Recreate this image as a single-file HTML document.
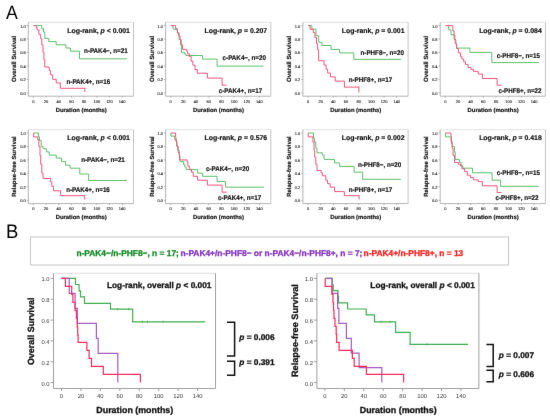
<!DOCTYPE html>
<html><head><meta charset="utf-8"><title>Figure</title>
<style>
html,body{margin:0;padding:0;background:#fff;}
svg{display:block;font-family:"Liberation Sans", sans-serif;text-rendering:geometricPrecision;}
#wrap{width:550px;height:419px;overflow:hidden;}
</style></head>
<body>
<div id="wrap"><svg width="550" height="419" viewBox="0 0 550 419">
<defs><filter id="soft" x="0" y="0" width="550" height="419" filterUnits="userSpaceOnUse" color-interpolation-filters="sRGB"><feConvolveMatrix order="3" kernelMatrix="0.00276 0.04704 0.00276 0.04704 0.80077 0.04704 0.00276 0.04704 0.00276" edgeMode="duplicate" preserveAlpha="true"/></filter></defs>
<g filter="url(#soft)">
<rect x="0" y="0" width="550" height="419" fill="#fff"/>
<text x="5.90" y="18.70" font-size="19.332" font-weight="normal" text-anchor="start" fill="#000" textLength="11.79" lengthAdjust="spacingAndGlyphs" >A</text>
<g transform="translate(0.00,0.00)">
<line x1="28.3" y1="22.3" x2="133.5" y2="22.3" stroke="#e2e2e2" stroke-width="1"/>
<line x1="133.5" y1="22.3" x2="133.5" y2="96.2" stroke="#c4c4c4" stroke-width="1"/>
<line x1="28.3" y1="22.3" x2="28.3" y2="96.2" stroke="#b4b4b4" stroke-width="1"/>
<line x1="28.3" y1="96.2" x2="133.5" y2="96.2" stroke="#b4b4b4" stroke-width="1"/>
<line x1="26.7" y1="25.60" x2="28.3" y2="25.60" stroke="#999" stroke-width="0.7"/>
<text x="25.70" y="27.50" font-size="4.0" font-weight="normal" text-anchor="end" fill="#222" stroke="#222" stroke-width="0.12" >1.0</text>
<line x1="26.7" y1="39.06" x2="28.3" y2="39.06" stroke="#999" stroke-width="0.7"/>
<text x="25.70" y="40.96" font-size="4.0" font-weight="normal" text-anchor="end" fill="#222" stroke="#222" stroke-width="0.12" >0.8</text>
<line x1="26.7" y1="52.52" x2="28.3" y2="52.52" stroke="#999" stroke-width="0.7"/>
<text x="25.70" y="54.42" font-size="4.0" font-weight="normal" text-anchor="end" fill="#222" stroke="#222" stroke-width="0.12" >0.6</text>
<line x1="26.7" y1="65.98" x2="28.3" y2="65.98" stroke="#999" stroke-width="0.7"/>
<text x="25.70" y="67.88" font-size="4.0" font-weight="normal" text-anchor="end" fill="#222" stroke="#222" stroke-width="0.12" >0.4</text>
<line x1="26.7" y1="79.44" x2="28.3" y2="79.44" stroke="#999" stroke-width="0.7"/>
<text x="25.70" y="81.34" font-size="4.0" font-weight="normal" text-anchor="end" fill="#222" stroke="#222" stroke-width="0.12" >0.2</text>
<line x1="26.7" y1="92.90" x2="28.3" y2="92.90" stroke="#999" stroke-width="0.7"/>
<text x="25.70" y="94.80" font-size="4.0" font-weight="normal" text-anchor="end" fill="#222" stroke="#222" stroke-width="0.12" >0.0</text>
<line x1="33.40" y1="96.2" x2="33.40" y2="97.60000000000001" stroke="#999" stroke-width="0.7"/>
<text x="33.40" y="102.50" font-size="4.0" font-weight="normal" text-anchor="middle" fill="#222" stroke="#222" stroke-width="0.12" >0</text>
<line x1="46.08" y1="96.2" x2="46.08" y2="97.60000000000001" stroke="#999" stroke-width="0.7"/>
<text x="46.08" y="102.50" font-size="4.0" font-weight="normal" text-anchor="middle" fill="#222" stroke="#222" stroke-width="0.12" >20</text>
<line x1="58.76" y1="96.2" x2="58.76" y2="97.60000000000001" stroke="#999" stroke-width="0.7"/>
<text x="58.76" y="102.50" font-size="4.0" font-weight="normal" text-anchor="middle" fill="#222" stroke="#222" stroke-width="0.12" >40</text>
<line x1="71.44" y1="96.2" x2="71.44" y2="97.60000000000001" stroke="#999" stroke-width="0.7"/>
<text x="71.44" y="102.50" font-size="4.0" font-weight="normal" text-anchor="middle" fill="#222" stroke="#222" stroke-width="0.12" >60</text>
<line x1="84.12" y1="96.2" x2="84.12" y2="97.60000000000001" stroke="#999" stroke-width="0.7"/>
<text x="84.12" y="102.50" font-size="4.0" font-weight="normal" text-anchor="middle" fill="#222" stroke="#222" stroke-width="0.12" >80</text>
<line x1="96.80" y1="96.2" x2="96.80" y2="97.60000000000001" stroke="#999" stroke-width="0.7"/>
<text x="96.80" y="102.50" font-size="4.0" font-weight="normal" text-anchor="middle" fill="#222" stroke="#222" stroke-width="0.12" >100</text>
<line x1="109.48" y1="96.2" x2="109.48" y2="97.60000000000001" stroke="#999" stroke-width="0.7"/>
<text x="109.48" y="102.50" font-size="4.0" font-weight="normal" text-anchor="middle" fill="#222" stroke="#222" stroke-width="0.12" >120</text>
<line x1="122.16" y1="96.2" x2="122.16" y2="97.60000000000001" stroke="#999" stroke-width="0.7"/>
<text x="122.16" y="102.50" font-size="4.0" font-weight="normal" text-anchor="middle" fill="#222" stroke="#222" stroke-width="0.12" >140</text>
<text transform="translate(16.2,58.85) rotate(-90)" font-size="6.1" font-weight="bold" text-anchor="middle" fill="#111" stroke="#111" stroke-width="0.15">Overall Survival</text>
<text x="81.20" y="111.80" font-size="5.9" font-weight="bold" text-anchor="middle" fill="#111" stroke="#111" stroke-width="0.18" >Duration (months)</text>
<text x="129.90" y="32.90" font-size="6.9" font-weight="bold" text-anchor="end" fill="#111" stroke="#111" stroke-width="0.18" >Log-rank, <tspan font-style="italic">p</tspan> &lt; 0.001</text>
</g>
<path d="M33.6,25.6 H41.8 V28.8 H43.5 V32 H44.8 V38.4 H48.8 V41.6 H56.2 V44.8 H65.9 V48 H70.4 V51.2 H79.5 V58.8 H126.8" fill="none" stroke="#5cbf6c" stroke-width="1.0" stroke-linejoin="miter" stroke-linecap="butt"/>
<path d="M33.6,25.6 H36.3 V27.5 H37.2 V30 H38.9 V34.4 H40.7 V38.8 H41.8 V44.9 H43 V52 H43.9 V59.9 H44.8 V67 H49.2 V70.5 H50.4 V74.9 H52.7 V79.3 H56.2 V82.9 H60.3 V88.3 H84.8 M84.8,87.5 V92" fill="none" stroke="#f5547e" stroke-width="1.0" stroke-linejoin="miter" stroke-linecap="butt"/>
<text x="84.00" y="53.20" font-size="6.875" font-weight="bold" text-anchor="start" fill="#111" stroke="#111" stroke-width="0.18" textLength="43.66" lengthAdjust="spacingAndGlyphs" >n-PAK4−, n=21</text>
<text x="66.50" y="83.60" font-size="6.875" font-weight="bold" text-anchor="start" fill="#111" stroke="#111" stroke-width="0.18" textLength="43.66" lengthAdjust="spacingAndGlyphs" >n-PAK4+, n=16</text>
<g transform="translate(137.30,0.00)">
<line x1="28.3" y1="22.3" x2="133.5" y2="22.3" stroke="#e2e2e2" stroke-width="1"/>
<line x1="133.5" y1="22.3" x2="133.5" y2="96.2" stroke="#c4c4c4" stroke-width="1"/>
<line x1="28.3" y1="22.3" x2="28.3" y2="96.2" stroke="#b4b4b4" stroke-width="1"/>
<line x1="28.3" y1="96.2" x2="133.5" y2="96.2" stroke="#b4b4b4" stroke-width="1"/>
<line x1="26.7" y1="25.60" x2="28.3" y2="25.60" stroke="#999" stroke-width="0.7"/>
<text x="25.70" y="27.50" font-size="4.0" font-weight="normal" text-anchor="end" fill="#222" stroke="#222" stroke-width="0.12" >1.0</text>
<line x1="26.7" y1="39.06" x2="28.3" y2="39.06" stroke="#999" stroke-width="0.7"/>
<text x="25.70" y="40.96" font-size="4.0" font-weight="normal" text-anchor="end" fill="#222" stroke="#222" stroke-width="0.12" >0.8</text>
<line x1="26.7" y1="52.52" x2="28.3" y2="52.52" stroke="#999" stroke-width="0.7"/>
<text x="25.70" y="54.42" font-size="4.0" font-weight="normal" text-anchor="end" fill="#222" stroke="#222" stroke-width="0.12" >0.6</text>
<line x1="26.7" y1="65.98" x2="28.3" y2="65.98" stroke="#999" stroke-width="0.7"/>
<text x="25.70" y="67.88" font-size="4.0" font-weight="normal" text-anchor="end" fill="#222" stroke="#222" stroke-width="0.12" >0.4</text>
<line x1="26.7" y1="79.44" x2="28.3" y2="79.44" stroke="#999" stroke-width="0.7"/>
<text x="25.70" y="81.34" font-size="4.0" font-weight="normal" text-anchor="end" fill="#222" stroke="#222" stroke-width="0.12" >0.2</text>
<line x1="26.7" y1="92.90" x2="28.3" y2="92.90" stroke="#999" stroke-width="0.7"/>
<text x="25.70" y="94.80" font-size="4.0" font-weight="normal" text-anchor="end" fill="#222" stroke="#222" stroke-width="0.12" >0.0</text>
<line x1="33.40" y1="96.2" x2="33.40" y2="97.60000000000001" stroke="#999" stroke-width="0.7"/>
<text x="33.40" y="102.50" font-size="4.0" font-weight="normal" text-anchor="middle" fill="#222" stroke="#222" stroke-width="0.12" >0</text>
<line x1="46.08" y1="96.2" x2="46.08" y2="97.60000000000001" stroke="#999" stroke-width="0.7"/>
<text x="46.08" y="102.50" font-size="4.0" font-weight="normal" text-anchor="middle" fill="#222" stroke="#222" stroke-width="0.12" >20</text>
<line x1="58.76" y1="96.2" x2="58.76" y2="97.60000000000001" stroke="#999" stroke-width="0.7"/>
<text x="58.76" y="102.50" font-size="4.0" font-weight="normal" text-anchor="middle" fill="#222" stroke="#222" stroke-width="0.12" >40</text>
<line x1="71.44" y1="96.2" x2="71.44" y2="97.60000000000001" stroke="#999" stroke-width="0.7"/>
<text x="71.44" y="102.50" font-size="4.0" font-weight="normal" text-anchor="middle" fill="#222" stroke="#222" stroke-width="0.12" >60</text>
<line x1="84.12" y1="96.2" x2="84.12" y2="97.60000000000001" stroke="#999" stroke-width="0.7"/>
<text x="84.12" y="102.50" font-size="4.0" font-weight="normal" text-anchor="middle" fill="#222" stroke="#222" stroke-width="0.12" >80</text>
<line x1="96.80" y1="96.2" x2="96.80" y2="97.60000000000001" stroke="#999" stroke-width="0.7"/>
<text x="96.80" y="102.50" font-size="4.0" font-weight="normal" text-anchor="middle" fill="#222" stroke="#222" stroke-width="0.12" >100</text>
<line x1="109.48" y1="96.2" x2="109.48" y2="97.60000000000001" stroke="#999" stroke-width="0.7"/>
<text x="109.48" y="102.50" font-size="4.0" font-weight="normal" text-anchor="middle" fill="#222" stroke="#222" stroke-width="0.12" >120</text>
<line x1="122.16" y1="96.2" x2="122.16" y2="97.60000000000001" stroke="#999" stroke-width="0.7"/>
<text x="122.16" y="102.50" font-size="4.0" font-weight="normal" text-anchor="middle" fill="#222" stroke="#222" stroke-width="0.12" >140</text>
<text transform="translate(16.2,58.85) rotate(-90)" font-size="6.1" font-weight="bold" text-anchor="middle" fill="#111" stroke="#111" stroke-width="0.15">Overall Survival</text>
<text x="81.20" y="111.80" font-size="5.9" font-weight="bold" text-anchor="middle" fill="#111" stroke="#111" stroke-width="0.18" >Duration (months)</text>
<text x="129.90" y="32.90" font-size="6.9" font-weight="bold" text-anchor="end" fill="#111" stroke="#111" stroke-width="0.18" >Log-rank, <tspan font-style="italic">p</tspan> = 0.207</text>
</g>
<path d="M170.9,25.6 H172.9 V28.2 H173.8 V29.4 H177.4 V33.5 H179.1 V39.6 H180.5 V44.9 H181.4 V52.4 H184.4 V53.8 H185.8 V55.5 H202.6 V59.1 H217.1 V66.1 H263.5" fill="none" stroke="#5cbf6c" stroke-width="1.0" stroke-linejoin="miter" stroke-linecap="butt"/>
<path d="M170.9,25.6 H174.2 V25.6 H175.6 V28.7 H177.4 V32.6 H178.8 V36.1 H180 V39.6 H181.2 V44.9 H182.6 V49.4 H186.7 V51.1 H187.6 V53.8 H189.4 V56.4 H191.1 V61.2 H192.9 V65.2 H195 V69.6 H197.3 V73.2 H207.4 V78.1 H222.1 V85.2 H226.5" fill="none" stroke="#f5547e" stroke-width="1.0" stroke-linejoin="miter" stroke-linecap="butt"/>
<text x="222.60" y="59.90" font-size="6.875" font-weight="bold" text-anchor="start" fill="#111" stroke="#111" stroke-width="0.18" textLength="43.31" lengthAdjust="spacingAndGlyphs" >c-PAK4−, n=20</text>
<text x="218.80" y="92.60" font-size="6.875" font-weight="bold" text-anchor="start" fill="#111" stroke="#111" stroke-width="0.18" textLength="43.31" lengthAdjust="spacingAndGlyphs" >c-PAK4+, n=17</text>
<g transform="translate(274.60,0.00)">
<line x1="28.3" y1="22.3" x2="133.5" y2="22.3" stroke="#e2e2e2" stroke-width="1"/>
<line x1="133.5" y1="22.3" x2="133.5" y2="96.2" stroke="#c4c4c4" stroke-width="1"/>
<line x1="28.3" y1="22.3" x2="28.3" y2="96.2" stroke="#b4b4b4" stroke-width="1"/>
<line x1="28.3" y1="96.2" x2="133.5" y2="96.2" stroke="#b4b4b4" stroke-width="1"/>
<line x1="26.7" y1="25.60" x2="28.3" y2="25.60" stroke="#999" stroke-width="0.7"/>
<text x="25.70" y="27.50" font-size="4.0" font-weight="normal" text-anchor="end" fill="#222" stroke="#222" stroke-width="0.12" >1.0</text>
<line x1="26.7" y1="39.06" x2="28.3" y2="39.06" stroke="#999" stroke-width="0.7"/>
<text x="25.70" y="40.96" font-size="4.0" font-weight="normal" text-anchor="end" fill="#222" stroke="#222" stroke-width="0.12" >0.8</text>
<line x1="26.7" y1="52.52" x2="28.3" y2="52.52" stroke="#999" stroke-width="0.7"/>
<text x="25.70" y="54.42" font-size="4.0" font-weight="normal" text-anchor="end" fill="#222" stroke="#222" stroke-width="0.12" >0.6</text>
<line x1="26.7" y1="65.98" x2="28.3" y2="65.98" stroke="#999" stroke-width="0.7"/>
<text x="25.70" y="67.88" font-size="4.0" font-weight="normal" text-anchor="end" fill="#222" stroke="#222" stroke-width="0.12" >0.4</text>
<line x1="26.7" y1="79.44" x2="28.3" y2="79.44" stroke="#999" stroke-width="0.7"/>
<text x="25.70" y="81.34" font-size="4.0" font-weight="normal" text-anchor="end" fill="#222" stroke="#222" stroke-width="0.12" >0.2</text>
<line x1="26.7" y1="92.90" x2="28.3" y2="92.90" stroke="#999" stroke-width="0.7"/>
<text x="25.70" y="94.80" font-size="4.0" font-weight="normal" text-anchor="end" fill="#222" stroke="#222" stroke-width="0.12" >0.0</text>
<line x1="33.40" y1="96.2" x2="33.40" y2="97.60000000000001" stroke="#999" stroke-width="0.7"/>
<text x="33.40" y="102.50" font-size="4.0" font-weight="normal" text-anchor="middle" fill="#222" stroke="#222" stroke-width="0.12" >0</text>
<line x1="46.08" y1="96.2" x2="46.08" y2="97.60000000000001" stroke="#999" stroke-width="0.7"/>
<text x="46.08" y="102.50" font-size="4.0" font-weight="normal" text-anchor="middle" fill="#222" stroke="#222" stroke-width="0.12" >20</text>
<line x1="58.76" y1="96.2" x2="58.76" y2="97.60000000000001" stroke="#999" stroke-width="0.7"/>
<text x="58.76" y="102.50" font-size="4.0" font-weight="normal" text-anchor="middle" fill="#222" stroke="#222" stroke-width="0.12" >40</text>
<line x1="71.44" y1="96.2" x2="71.44" y2="97.60000000000001" stroke="#999" stroke-width="0.7"/>
<text x="71.44" y="102.50" font-size="4.0" font-weight="normal" text-anchor="middle" fill="#222" stroke="#222" stroke-width="0.12" >60</text>
<line x1="84.12" y1="96.2" x2="84.12" y2="97.60000000000001" stroke="#999" stroke-width="0.7"/>
<text x="84.12" y="102.50" font-size="4.0" font-weight="normal" text-anchor="middle" fill="#222" stroke="#222" stroke-width="0.12" >80</text>
<line x1="96.80" y1="96.2" x2="96.80" y2="97.60000000000001" stroke="#999" stroke-width="0.7"/>
<text x="96.80" y="102.50" font-size="4.0" font-weight="normal" text-anchor="middle" fill="#222" stroke="#222" stroke-width="0.12" >100</text>
<line x1="109.48" y1="96.2" x2="109.48" y2="97.60000000000001" stroke="#999" stroke-width="0.7"/>
<text x="109.48" y="102.50" font-size="4.0" font-weight="normal" text-anchor="middle" fill="#222" stroke="#222" stroke-width="0.12" >120</text>
<line x1="122.16" y1="96.2" x2="122.16" y2="97.60000000000001" stroke="#999" stroke-width="0.7"/>
<text x="122.16" y="102.50" font-size="4.0" font-weight="normal" text-anchor="middle" fill="#222" stroke="#222" stroke-width="0.12" >140</text>
<text transform="translate(16.2,58.85) rotate(-90)" font-size="6.1" font-weight="bold" text-anchor="middle" fill="#111" stroke="#111" stroke-width="0.15">Overall Survival</text>
<text x="81.20" y="111.80" font-size="5.9" font-weight="bold" text-anchor="middle" fill="#111" stroke="#111" stroke-width="0.18" >Duration (months)</text>
<text x="129.90" y="32.90" font-size="6.9" font-weight="bold" text-anchor="end" fill="#111" stroke="#111" stroke-width="0.18" >Log-rank, <tspan font-style="italic">p</tspan> = 0.001</text>
</g>
<path d="M308.2,25.6 H311.9 V29.2 H316 V35.7 H318.7 V42.3 H322 V45.5 H331.1 V49.4 H339.6 V52.9 H353.8 V59.4 H400.9" fill="none" stroke="#5cbf6c" stroke-width="1.0" stroke-linejoin="miter" stroke-linecap="butt"/>
<path d="M308.2,25.6 H310 V29.2 H313.3 V32.5 H314.9 V37.4 H316.5 V43.4 H317.6 V49.9 H318.6 V60.7 H324 V65 H326.1 V69.3 H327.7 V73.1 H330.4 V76.9 H335.2 V81.1 H344.4 V87.1 H358.9 M358.9,86.5 V92.4" fill="none" stroke="#f5547e" stroke-width="1.0" stroke-linejoin="miter" stroke-linecap="butt"/>
<text x="360.50" y="54.60" font-size="6.875" font-weight="bold" text-anchor="start" fill="#111" stroke="#111" stroke-width="0.18" textLength="43.42" lengthAdjust="spacingAndGlyphs" >n-PHF8−, n=20</text>
<text x="348.70" y="81.60" font-size="6.875" font-weight="bold" text-anchor="start" fill="#111" stroke="#111" stroke-width="0.18" textLength="43.42" lengthAdjust="spacingAndGlyphs" >n-PHF8+, n=17</text>
<g transform="translate(411.90,0.00)">
<line x1="28.3" y1="22.3" x2="133.5" y2="22.3" stroke="#e2e2e2" stroke-width="1"/>
<line x1="133.5" y1="22.3" x2="133.5" y2="96.2" stroke="#c4c4c4" stroke-width="1"/>
<line x1="28.3" y1="22.3" x2="28.3" y2="96.2" stroke="#b4b4b4" stroke-width="1"/>
<line x1="28.3" y1="96.2" x2="133.5" y2="96.2" stroke="#b4b4b4" stroke-width="1"/>
<line x1="26.7" y1="25.60" x2="28.3" y2="25.60" stroke="#999" stroke-width="0.7"/>
<text x="25.70" y="27.50" font-size="4.0" font-weight="normal" text-anchor="end" fill="#222" stroke="#222" stroke-width="0.12" >1.0</text>
<line x1="26.7" y1="39.06" x2="28.3" y2="39.06" stroke="#999" stroke-width="0.7"/>
<text x="25.70" y="40.96" font-size="4.0" font-weight="normal" text-anchor="end" fill="#222" stroke="#222" stroke-width="0.12" >0.8</text>
<line x1="26.7" y1="52.52" x2="28.3" y2="52.52" stroke="#999" stroke-width="0.7"/>
<text x="25.70" y="54.42" font-size="4.0" font-weight="normal" text-anchor="end" fill="#222" stroke="#222" stroke-width="0.12" >0.6</text>
<line x1="26.7" y1="65.98" x2="28.3" y2="65.98" stroke="#999" stroke-width="0.7"/>
<text x="25.70" y="67.88" font-size="4.0" font-weight="normal" text-anchor="end" fill="#222" stroke="#222" stroke-width="0.12" >0.4</text>
<line x1="26.7" y1="79.44" x2="28.3" y2="79.44" stroke="#999" stroke-width="0.7"/>
<text x="25.70" y="81.34" font-size="4.0" font-weight="normal" text-anchor="end" fill="#222" stroke="#222" stroke-width="0.12" >0.2</text>
<line x1="26.7" y1="92.90" x2="28.3" y2="92.90" stroke="#999" stroke-width="0.7"/>
<text x="25.70" y="94.80" font-size="4.0" font-weight="normal" text-anchor="end" fill="#222" stroke="#222" stroke-width="0.12" >0.0</text>
<line x1="33.40" y1="96.2" x2="33.40" y2="97.60000000000001" stroke="#999" stroke-width="0.7"/>
<text x="33.40" y="102.50" font-size="4.0" font-weight="normal" text-anchor="middle" fill="#222" stroke="#222" stroke-width="0.12" >0</text>
<line x1="46.08" y1="96.2" x2="46.08" y2="97.60000000000001" stroke="#999" stroke-width="0.7"/>
<text x="46.08" y="102.50" font-size="4.0" font-weight="normal" text-anchor="middle" fill="#222" stroke="#222" stroke-width="0.12" >20</text>
<line x1="58.76" y1="96.2" x2="58.76" y2="97.60000000000001" stroke="#999" stroke-width="0.7"/>
<text x="58.76" y="102.50" font-size="4.0" font-weight="normal" text-anchor="middle" fill="#222" stroke="#222" stroke-width="0.12" >40</text>
<line x1="71.44" y1="96.2" x2="71.44" y2="97.60000000000001" stroke="#999" stroke-width="0.7"/>
<text x="71.44" y="102.50" font-size="4.0" font-weight="normal" text-anchor="middle" fill="#222" stroke="#222" stroke-width="0.12" >60</text>
<line x1="84.12" y1="96.2" x2="84.12" y2="97.60000000000001" stroke="#999" stroke-width="0.7"/>
<text x="84.12" y="102.50" font-size="4.0" font-weight="normal" text-anchor="middle" fill="#222" stroke="#222" stroke-width="0.12" >80</text>
<line x1="96.80" y1="96.2" x2="96.80" y2="97.60000000000001" stroke="#999" stroke-width="0.7"/>
<text x="96.80" y="102.50" font-size="4.0" font-weight="normal" text-anchor="middle" fill="#222" stroke="#222" stroke-width="0.12" >100</text>
<line x1="109.48" y1="96.2" x2="109.48" y2="97.60000000000001" stroke="#999" stroke-width="0.7"/>
<text x="109.48" y="102.50" font-size="4.0" font-weight="normal" text-anchor="middle" fill="#222" stroke="#222" stroke-width="0.12" >120</text>
<line x1="122.16" y1="96.2" x2="122.16" y2="97.60000000000001" stroke="#999" stroke-width="0.7"/>
<text x="122.16" y="102.50" font-size="4.0" font-weight="normal" text-anchor="middle" fill="#222" stroke="#222" stroke-width="0.12" >140</text>
<text transform="translate(16.2,58.85) rotate(-90)" font-size="6.1" font-weight="bold" text-anchor="middle" fill="#111" stroke="#111" stroke-width="0.15">Overall Survival</text>
<text x="81.20" y="111.80" font-size="5.9" font-weight="bold" text-anchor="middle" fill="#111" stroke="#111" stroke-width="0.18" >Duration (months)</text>
<text x="129.90" y="32.90" font-size="6.9" font-weight="bold" text-anchor="end" fill="#111" stroke="#111" stroke-width="0.18" >Log-rank, <tspan font-style="italic">p</tspan> = 0.084</text>
</g>
<path d="M445.6,25.6 H448.7 V29.9 H451 V34.7 H454 V39.6 H455.2 V43.5 H456.6 V48.1 H469.9 V52.4 H491.8 V62.6 H538.9" fill="none" stroke="#5cbf6c" stroke-width="1.0" stroke-linejoin="miter" stroke-linecap="butt"/>
<path d="M445.6,25.6 H452.8 V30.8 H454 V35.2 H454.9 V39.6 H455.8 V44.1 H456.6 V48.5 H458.4 V52.9 H460.5 V56.4 H461.9 V59.1 H463.7 V61.7 H465.5 V64.4 H468.1 V67.5 H470.8 V69.3 H473.4 V71.4 H478.2 V74.1 H482.4 V78.5 H497.1 V85.2 H501.5" fill="none" stroke="#f5547e" stroke-width="1.0" stroke-linejoin="miter" stroke-linecap="butt"/>
<text x="496.80" y="58.20" font-size="6.875" font-weight="bold" text-anchor="start" fill="#111" stroke="#111" stroke-width="0.18" textLength="43.08" lengthAdjust="spacingAndGlyphs" >c-PHF8−, n=15</text>
<text x="498.50" y="92.60" font-size="6.875" font-weight="bold" text-anchor="start" fill="#111" stroke="#111" stroke-width="0.18" textLength="43.08" lengthAdjust="spacingAndGlyphs" >c-PHF8+, n=22</text>
<g transform="translate(0.00,107.40)">
<line x1="28.3" y1="22.3" x2="133.5" y2="22.3" stroke="#e2e2e2" stroke-width="1"/>
<line x1="133.5" y1="22.3" x2="133.5" y2="96.2" stroke="#c4c4c4" stroke-width="1"/>
<line x1="28.3" y1="22.3" x2="28.3" y2="96.2" stroke="#b4b4b4" stroke-width="1"/>
<line x1="28.3" y1="96.2" x2="133.5" y2="96.2" stroke="#b4b4b4" stroke-width="1"/>
<line x1="26.7" y1="25.60" x2="28.3" y2="25.60" stroke="#999" stroke-width="0.7"/>
<text x="25.70" y="27.50" font-size="4.0" font-weight="normal" text-anchor="end" fill="#222" stroke="#222" stroke-width="0.12" >1.0</text>
<line x1="26.7" y1="39.06" x2="28.3" y2="39.06" stroke="#999" stroke-width="0.7"/>
<text x="25.70" y="40.96" font-size="4.0" font-weight="normal" text-anchor="end" fill="#222" stroke="#222" stroke-width="0.12" >0.8</text>
<line x1="26.7" y1="52.52" x2="28.3" y2="52.52" stroke="#999" stroke-width="0.7"/>
<text x="25.70" y="54.42" font-size="4.0" font-weight="normal" text-anchor="end" fill="#222" stroke="#222" stroke-width="0.12" >0.6</text>
<line x1="26.7" y1="65.98" x2="28.3" y2="65.98" stroke="#999" stroke-width="0.7"/>
<text x="25.70" y="67.88" font-size="4.0" font-weight="normal" text-anchor="end" fill="#222" stroke="#222" stroke-width="0.12" >0.4</text>
<line x1="26.7" y1="79.44" x2="28.3" y2="79.44" stroke="#999" stroke-width="0.7"/>
<text x="25.70" y="81.34" font-size="4.0" font-weight="normal" text-anchor="end" fill="#222" stroke="#222" stroke-width="0.12" >0.2</text>
<line x1="26.7" y1="92.90" x2="28.3" y2="92.90" stroke="#999" stroke-width="0.7"/>
<text x="25.70" y="94.80" font-size="4.0" font-weight="normal" text-anchor="end" fill="#222" stroke="#222" stroke-width="0.12" >0.0</text>
<line x1="33.40" y1="96.2" x2="33.40" y2="97.60000000000001" stroke="#999" stroke-width="0.7"/>
<text x="33.40" y="102.50" font-size="4.0" font-weight="normal" text-anchor="middle" fill="#222" stroke="#222" stroke-width="0.12" >0</text>
<line x1="46.08" y1="96.2" x2="46.08" y2="97.60000000000001" stroke="#999" stroke-width="0.7"/>
<text x="46.08" y="102.50" font-size="4.0" font-weight="normal" text-anchor="middle" fill="#222" stroke="#222" stroke-width="0.12" >20</text>
<line x1="58.76" y1="96.2" x2="58.76" y2="97.60000000000001" stroke="#999" stroke-width="0.7"/>
<text x="58.76" y="102.50" font-size="4.0" font-weight="normal" text-anchor="middle" fill="#222" stroke="#222" stroke-width="0.12" >40</text>
<line x1="71.44" y1="96.2" x2="71.44" y2="97.60000000000001" stroke="#999" stroke-width="0.7"/>
<text x="71.44" y="102.50" font-size="4.0" font-weight="normal" text-anchor="middle" fill="#222" stroke="#222" stroke-width="0.12" >60</text>
<line x1="84.12" y1="96.2" x2="84.12" y2="97.60000000000001" stroke="#999" stroke-width="0.7"/>
<text x="84.12" y="102.50" font-size="4.0" font-weight="normal" text-anchor="middle" fill="#222" stroke="#222" stroke-width="0.12" >80</text>
<line x1="96.80" y1="96.2" x2="96.80" y2="97.60000000000001" stroke="#999" stroke-width="0.7"/>
<text x="96.80" y="102.50" font-size="4.0" font-weight="normal" text-anchor="middle" fill="#222" stroke="#222" stroke-width="0.12" >100</text>
<line x1="109.48" y1="96.2" x2="109.48" y2="97.60000000000001" stroke="#999" stroke-width="0.7"/>
<text x="109.48" y="102.50" font-size="4.0" font-weight="normal" text-anchor="middle" fill="#222" stroke="#222" stroke-width="0.12" >120</text>
<line x1="122.16" y1="96.2" x2="122.16" y2="97.60000000000001" stroke="#999" stroke-width="0.7"/>
<text x="122.16" y="102.50" font-size="4.0" font-weight="normal" text-anchor="middle" fill="#222" stroke="#222" stroke-width="0.12" >140</text>
<text transform="translate(16.2,59.15) rotate(-90)" font-size="5.95" font-weight="bold" text-anchor="middle" fill="#111" stroke="#111" stroke-width="0.15">Relapse-free Survival</text>
<text x="81.20" y="111.80" font-size="5.9" font-weight="bold" text-anchor="middle" fill="#111" stroke="#111" stroke-width="0.18" >Duration (months)</text>
<text x="129.90" y="32.90" font-size="6.9" font-weight="bold" text-anchor="end" fill="#111" stroke="#111" stroke-width="0.18" >Log-rank, <tspan font-style="italic">p</tspan> &lt; 0.001</text>
</g>
<path d="M33.6,133 H38.6 V136.9 H39.5 V140.5 H41.2 V146.6 H43 V148.8 H46.5 V151.9 H49.2 V155.1 H56.2 V158.1 H61.5 V161.6 H65.6 V165.2 H70.1 V168.2 H79.8 V174 H88.6 V180.5 H126.9" fill="none" stroke="#5cbf6c" stroke-width="1.0" stroke-linejoin="miter" stroke-linecap="butt"/>
<path d="M33.6,133 V136.9 H37.7 V139.6 H38.9 V146.6 H40 V155.5 H40.7 V164.3 H41.8 V173.1 H43 V178.4 H50.6 V181.9 H51.8 V186.3 H53.6 V190.8 H60.6 V195.7 H84.7 M84.7,195 V199.6" fill="none" stroke="#f5547e" stroke-width="1.0" stroke-linejoin="miter" stroke-linecap="butt"/>
<text x="81.20" y="161.60" font-size="6.875" font-weight="bold" text-anchor="start" fill="#111" stroke="#111" stroke-width="0.18" textLength="43.66" lengthAdjust="spacingAndGlyphs" >n-PAK4−, n=21</text>
<text x="66.20" y="191.60" font-size="6.875" font-weight="bold" text-anchor="start" fill="#111" stroke="#111" stroke-width="0.18" textLength="43.66" lengthAdjust="spacingAndGlyphs" >n-PAK4+, n=16</text>
<g transform="translate(137.30,107.40)">
<line x1="28.3" y1="22.3" x2="133.5" y2="22.3" stroke="#e2e2e2" stroke-width="1"/>
<line x1="133.5" y1="22.3" x2="133.5" y2="96.2" stroke="#c4c4c4" stroke-width="1"/>
<line x1="28.3" y1="22.3" x2="28.3" y2="96.2" stroke="#b4b4b4" stroke-width="1"/>
<line x1="28.3" y1="96.2" x2="133.5" y2="96.2" stroke="#b4b4b4" stroke-width="1"/>
<line x1="26.7" y1="25.60" x2="28.3" y2="25.60" stroke="#999" stroke-width="0.7"/>
<text x="25.70" y="27.50" font-size="4.0" font-weight="normal" text-anchor="end" fill="#222" stroke="#222" stroke-width="0.12" >1.0</text>
<line x1="26.7" y1="39.06" x2="28.3" y2="39.06" stroke="#999" stroke-width="0.7"/>
<text x="25.70" y="40.96" font-size="4.0" font-weight="normal" text-anchor="end" fill="#222" stroke="#222" stroke-width="0.12" >0.8</text>
<line x1="26.7" y1="52.52" x2="28.3" y2="52.52" stroke="#999" stroke-width="0.7"/>
<text x="25.70" y="54.42" font-size="4.0" font-weight="normal" text-anchor="end" fill="#222" stroke="#222" stroke-width="0.12" >0.6</text>
<line x1="26.7" y1="65.98" x2="28.3" y2="65.98" stroke="#999" stroke-width="0.7"/>
<text x="25.70" y="67.88" font-size="4.0" font-weight="normal" text-anchor="end" fill="#222" stroke="#222" stroke-width="0.12" >0.4</text>
<line x1="26.7" y1="79.44" x2="28.3" y2="79.44" stroke="#999" stroke-width="0.7"/>
<text x="25.70" y="81.34" font-size="4.0" font-weight="normal" text-anchor="end" fill="#222" stroke="#222" stroke-width="0.12" >0.2</text>
<line x1="26.7" y1="92.90" x2="28.3" y2="92.90" stroke="#999" stroke-width="0.7"/>
<text x="25.70" y="94.80" font-size="4.0" font-weight="normal" text-anchor="end" fill="#222" stroke="#222" stroke-width="0.12" >0.0</text>
<line x1="33.40" y1="96.2" x2="33.40" y2="97.60000000000001" stroke="#999" stroke-width="0.7"/>
<text x="33.40" y="102.50" font-size="4.0" font-weight="normal" text-anchor="middle" fill="#222" stroke="#222" stroke-width="0.12" >0</text>
<line x1="46.08" y1="96.2" x2="46.08" y2="97.60000000000001" stroke="#999" stroke-width="0.7"/>
<text x="46.08" y="102.50" font-size="4.0" font-weight="normal" text-anchor="middle" fill="#222" stroke="#222" stroke-width="0.12" >20</text>
<line x1="58.76" y1="96.2" x2="58.76" y2="97.60000000000001" stroke="#999" stroke-width="0.7"/>
<text x="58.76" y="102.50" font-size="4.0" font-weight="normal" text-anchor="middle" fill="#222" stroke="#222" stroke-width="0.12" >40</text>
<line x1="71.44" y1="96.2" x2="71.44" y2="97.60000000000001" stroke="#999" stroke-width="0.7"/>
<text x="71.44" y="102.50" font-size="4.0" font-weight="normal" text-anchor="middle" fill="#222" stroke="#222" stroke-width="0.12" >60</text>
<line x1="84.12" y1="96.2" x2="84.12" y2="97.60000000000001" stroke="#999" stroke-width="0.7"/>
<text x="84.12" y="102.50" font-size="4.0" font-weight="normal" text-anchor="middle" fill="#222" stroke="#222" stroke-width="0.12" >80</text>
<line x1="96.80" y1="96.2" x2="96.80" y2="97.60000000000001" stroke="#999" stroke-width="0.7"/>
<text x="96.80" y="102.50" font-size="4.0" font-weight="normal" text-anchor="middle" fill="#222" stroke="#222" stroke-width="0.12" >100</text>
<line x1="109.48" y1="96.2" x2="109.48" y2="97.60000000000001" stroke="#999" stroke-width="0.7"/>
<text x="109.48" y="102.50" font-size="4.0" font-weight="normal" text-anchor="middle" fill="#222" stroke="#222" stroke-width="0.12" >120</text>
<line x1="122.16" y1="96.2" x2="122.16" y2="97.60000000000001" stroke="#999" stroke-width="0.7"/>
<text x="122.16" y="102.50" font-size="4.0" font-weight="normal" text-anchor="middle" fill="#222" stroke="#222" stroke-width="0.12" >140</text>
<text transform="translate(16.2,59.15) rotate(-90)" font-size="5.95" font-weight="bold" text-anchor="middle" fill="#111" stroke="#111" stroke-width="0.15">Relapse-free Survival</text>
<text x="81.20" y="111.80" font-size="5.9" font-weight="bold" text-anchor="middle" fill="#111" stroke="#111" stroke-width="0.18" >Duration (months)</text>
<text x="129.90" y="32.90" font-size="6.9" font-weight="bold" text-anchor="end" fill="#111" stroke="#111" stroke-width="0.18" >Log-rank, <tspan font-style="italic">p</tspan> = 0.576</text>
</g>
<path d="M170.9,133 V136.1 H174.7 V139.6 H176.5 V145.8 H177.7 V150.2 H179.1 V155.5 H180 V161.6 H183.5 V164.3 H184.8 V166.9 H186.2 V169.6 H197.6 V173.1 H202.6 V176.3 H217.1 V181.6 H225.6 V187.2 H263.9" fill="none" stroke="#5cbf6c" stroke-width="1.0" stroke-linejoin="miter" stroke-linecap="butt"/>
<path d="M170.9,133 H175.6 V136.9 H175.9 V141.4 H177 V146.6 H178.2 V152.8 H179.5 V159.9 H187.1 V161.6 H187.9 V166.1 H189.4 V169.6 H191.5 V172.2 H193.2 V176.3 H197.6 V180.2 H207.4 V185.1 H222.1 V192.2 H226.5" fill="none" stroke="#f5547e" stroke-width="1.0" stroke-linejoin="miter" stroke-linecap="butt"/>
<text x="205.90" y="171.00" font-size="6.875" font-weight="bold" text-anchor="start" fill="#111" stroke="#111" stroke-width="0.18" textLength="43.31" lengthAdjust="spacingAndGlyphs" >c-PAK4−, n=20</text>
<text x="217.90" y="199.60" font-size="6.875" font-weight="bold" text-anchor="start" fill="#111" stroke="#111" stroke-width="0.18" textLength="43.31" lengthAdjust="spacingAndGlyphs" >c-PAK4+, n=17</text>
<g transform="translate(274.60,107.40)">
<line x1="28.3" y1="22.3" x2="133.5" y2="22.3" stroke="#e2e2e2" stroke-width="1"/>
<line x1="133.5" y1="22.3" x2="133.5" y2="96.2" stroke="#c4c4c4" stroke-width="1"/>
<line x1="28.3" y1="22.3" x2="28.3" y2="96.2" stroke="#b4b4b4" stroke-width="1"/>
<line x1="28.3" y1="96.2" x2="133.5" y2="96.2" stroke="#b4b4b4" stroke-width="1"/>
<line x1="26.7" y1="25.60" x2="28.3" y2="25.60" stroke="#999" stroke-width="0.7"/>
<text x="25.70" y="27.50" font-size="4.0" font-weight="normal" text-anchor="end" fill="#222" stroke="#222" stroke-width="0.12" >1.0</text>
<line x1="26.7" y1="39.06" x2="28.3" y2="39.06" stroke="#999" stroke-width="0.7"/>
<text x="25.70" y="40.96" font-size="4.0" font-weight="normal" text-anchor="end" fill="#222" stroke="#222" stroke-width="0.12" >0.8</text>
<line x1="26.7" y1="52.52" x2="28.3" y2="52.52" stroke="#999" stroke-width="0.7"/>
<text x="25.70" y="54.42" font-size="4.0" font-weight="normal" text-anchor="end" fill="#222" stroke="#222" stroke-width="0.12" >0.6</text>
<line x1="26.7" y1="65.98" x2="28.3" y2="65.98" stroke="#999" stroke-width="0.7"/>
<text x="25.70" y="67.88" font-size="4.0" font-weight="normal" text-anchor="end" fill="#222" stroke="#222" stroke-width="0.12" >0.4</text>
<line x1="26.7" y1="79.44" x2="28.3" y2="79.44" stroke="#999" stroke-width="0.7"/>
<text x="25.70" y="81.34" font-size="4.0" font-weight="normal" text-anchor="end" fill="#222" stroke="#222" stroke-width="0.12" >0.2</text>
<line x1="26.7" y1="92.90" x2="28.3" y2="92.90" stroke="#999" stroke-width="0.7"/>
<text x="25.70" y="94.80" font-size="4.0" font-weight="normal" text-anchor="end" fill="#222" stroke="#222" stroke-width="0.12" >0.0</text>
<line x1="33.40" y1="96.2" x2="33.40" y2="97.60000000000001" stroke="#999" stroke-width="0.7"/>
<text x="33.40" y="102.50" font-size="4.0" font-weight="normal" text-anchor="middle" fill="#222" stroke="#222" stroke-width="0.12" >0</text>
<line x1="46.08" y1="96.2" x2="46.08" y2="97.60000000000001" stroke="#999" stroke-width="0.7"/>
<text x="46.08" y="102.50" font-size="4.0" font-weight="normal" text-anchor="middle" fill="#222" stroke="#222" stroke-width="0.12" >20</text>
<line x1="58.76" y1="96.2" x2="58.76" y2="97.60000000000001" stroke="#999" stroke-width="0.7"/>
<text x="58.76" y="102.50" font-size="4.0" font-weight="normal" text-anchor="middle" fill="#222" stroke="#222" stroke-width="0.12" >40</text>
<line x1="71.44" y1="96.2" x2="71.44" y2="97.60000000000001" stroke="#999" stroke-width="0.7"/>
<text x="71.44" y="102.50" font-size="4.0" font-weight="normal" text-anchor="middle" fill="#222" stroke="#222" stroke-width="0.12" >60</text>
<line x1="84.12" y1="96.2" x2="84.12" y2="97.60000000000001" stroke="#999" stroke-width="0.7"/>
<text x="84.12" y="102.50" font-size="4.0" font-weight="normal" text-anchor="middle" fill="#222" stroke="#222" stroke-width="0.12" >80</text>
<line x1="96.80" y1="96.2" x2="96.80" y2="97.60000000000001" stroke="#999" stroke-width="0.7"/>
<text x="96.80" y="102.50" font-size="4.0" font-weight="normal" text-anchor="middle" fill="#222" stroke="#222" stroke-width="0.12" >100</text>
<line x1="109.48" y1="96.2" x2="109.48" y2="97.60000000000001" stroke="#999" stroke-width="0.7"/>
<text x="109.48" y="102.50" font-size="4.0" font-weight="normal" text-anchor="middle" fill="#222" stroke="#222" stroke-width="0.12" >120</text>
<line x1="122.16" y1="96.2" x2="122.16" y2="97.60000000000001" stroke="#999" stroke-width="0.7"/>
<text x="122.16" y="102.50" font-size="4.0" font-weight="normal" text-anchor="middle" fill="#222" stroke="#222" stroke-width="0.12" >140</text>
<text transform="translate(16.2,59.15) rotate(-90)" font-size="5.95" font-weight="bold" text-anchor="middle" fill="#111" stroke="#111" stroke-width="0.15">Relapse-free Survival</text>
<text x="81.20" y="111.80" font-size="5.9" font-weight="bold" text-anchor="middle" fill="#111" stroke="#111" stroke-width="0.18" >Duration (months)</text>
<text x="129.90" y="32.90" font-size="6.9" font-weight="bold" text-anchor="end" fill="#111" stroke="#111" stroke-width="0.18" >Log-rank, <tspan font-style="italic">p</tspan> = 0.002</text>
</g>
<path d="M308.2,133 H313.5 V137.8 H314.4 V142.2 H315.8 V148.4 H317 V152.8 H322.3 V155.1 H324.1 V159.4 H334.6 V162.9 H339.6 V166.4 H354.1 V172.2 H362.6 V179.3 H400.9" fill="none" stroke="#5cbf6c" stroke-width="1.0" stroke-linejoin="miter" stroke-linecap="butt"/>
<path d="M308.2,133 V136.9 H312.9 V142.2 H314 V150.2 H314.7 V157.2 H315.8 V164.3 H317 V170.5 H321.1 V172.8 H322.3 V175.8 H325.8 V180.2 H327.6 V183.7 H330.2 V187.2 H334.6 V191.6 H344.4 V195.7 H359.1 M359.1,195 V199.5" fill="none" stroke="#f5547e" stroke-width="1.0" stroke-linejoin="miter" stroke-linecap="butt"/>
<text x="357.90" y="166.90" font-size="6.875" font-weight="bold" text-anchor="start" fill="#111" stroke="#111" stroke-width="0.18" textLength="43.42" lengthAdjust="spacingAndGlyphs" >n-PHF8−, n=20</text>
<text x="348.70" y="192.20" font-size="6.875" font-weight="bold" text-anchor="start" fill="#111" stroke="#111" stroke-width="0.18" textLength="43.42" lengthAdjust="spacingAndGlyphs" >n-PHF8+, n=17</text>
<g transform="translate(411.90,107.40)">
<line x1="28.3" y1="22.3" x2="133.5" y2="22.3" stroke="#e2e2e2" stroke-width="1"/>
<line x1="133.5" y1="22.3" x2="133.5" y2="96.2" stroke="#c4c4c4" stroke-width="1"/>
<line x1="28.3" y1="22.3" x2="28.3" y2="96.2" stroke="#b4b4b4" stroke-width="1"/>
<line x1="28.3" y1="96.2" x2="133.5" y2="96.2" stroke="#b4b4b4" stroke-width="1"/>
<line x1="26.7" y1="25.60" x2="28.3" y2="25.60" stroke="#999" stroke-width="0.7"/>
<text x="25.70" y="27.50" font-size="4.0" font-weight="normal" text-anchor="end" fill="#222" stroke="#222" stroke-width="0.12" >1.0</text>
<line x1="26.7" y1="39.06" x2="28.3" y2="39.06" stroke="#999" stroke-width="0.7"/>
<text x="25.70" y="40.96" font-size="4.0" font-weight="normal" text-anchor="end" fill="#222" stroke="#222" stroke-width="0.12" >0.8</text>
<line x1="26.7" y1="52.52" x2="28.3" y2="52.52" stroke="#999" stroke-width="0.7"/>
<text x="25.70" y="54.42" font-size="4.0" font-weight="normal" text-anchor="end" fill="#222" stroke="#222" stroke-width="0.12" >0.6</text>
<line x1="26.7" y1="65.98" x2="28.3" y2="65.98" stroke="#999" stroke-width="0.7"/>
<text x="25.70" y="67.88" font-size="4.0" font-weight="normal" text-anchor="end" fill="#222" stroke="#222" stroke-width="0.12" >0.4</text>
<line x1="26.7" y1="79.44" x2="28.3" y2="79.44" stroke="#999" stroke-width="0.7"/>
<text x="25.70" y="81.34" font-size="4.0" font-weight="normal" text-anchor="end" fill="#222" stroke="#222" stroke-width="0.12" >0.2</text>
<line x1="26.7" y1="92.90" x2="28.3" y2="92.90" stroke="#999" stroke-width="0.7"/>
<text x="25.70" y="94.80" font-size="4.0" font-weight="normal" text-anchor="end" fill="#222" stroke="#222" stroke-width="0.12" >0.0</text>
<line x1="33.40" y1="96.2" x2="33.40" y2="97.60000000000001" stroke="#999" stroke-width="0.7"/>
<text x="33.40" y="102.50" font-size="4.0" font-weight="normal" text-anchor="middle" fill="#222" stroke="#222" stroke-width="0.12" >0</text>
<line x1="46.08" y1="96.2" x2="46.08" y2="97.60000000000001" stroke="#999" stroke-width="0.7"/>
<text x="46.08" y="102.50" font-size="4.0" font-weight="normal" text-anchor="middle" fill="#222" stroke="#222" stroke-width="0.12" >20</text>
<line x1="58.76" y1="96.2" x2="58.76" y2="97.60000000000001" stroke="#999" stroke-width="0.7"/>
<text x="58.76" y="102.50" font-size="4.0" font-weight="normal" text-anchor="middle" fill="#222" stroke="#222" stroke-width="0.12" >40</text>
<line x1="71.44" y1="96.2" x2="71.44" y2="97.60000000000001" stroke="#999" stroke-width="0.7"/>
<text x="71.44" y="102.50" font-size="4.0" font-weight="normal" text-anchor="middle" fill="#222" stroke="#222" stroke-width="0.12" >60</text>
<line x1="84.12" y1="96.2" x2="84.12" y2="97.60000000000001" stroke="#999" stroke-width="0.7"/>
<text x="84.12" y="102.50" font-size="4.0" font-weight="normal" text-anchor="middle" fill="#222" stroke="#222" stroke-width="0.12" >80</text>
<line x1="96.80" y1="96.2" x2="96.80" y2="97.60000000000001" stroke="#999" stroke-width="0.7"/>
<text x="96.80" y="102.50" font-size="4.0" font-weight="normal" text-anchor="middle" fill="#222" stroke="#222" stroke-width="0.12" >100</text>
<line x1="109.48" y1="96.2" x2="109.48" y2="97.60000000000001" stroke="#999" stroke-width="0.7"/>
<text x="109.48" y="102.50" font-size="4.0" font-weight="normal" text-anchor="middle" fill="#222" stroke="#222" stroke-width="0.12" >120</text>
<line x1="122.16" y1="96.2" x2="122.16" y2="97.60000000000001" stroke="#999" stroke-width="0.7"/>
<text x="122.16" y="102.50" font-size="4.0" font-weight="normal" text-anchor="middle" fill="#222" stroke="#222" stroke-width="0.12" >140</text>
<text transform="translate(16.2,59.15) rotate(-90)" font-size="5.95" font-weight="bold" text-anchor="middle" fill="#111" stroke="#111" stroke-width="0.15">Relapse-free Survival</text>
<text x="81.20" y="111.80" font-size="5.9" font-weight="bold" text-anchor="middle" fill="#111" stroke="#111" stroke-width="0.18" >Duration (months)</text>
<text x="129.90" y="32.90" font-size="6.9" font-weight="bold" text-anchor="end" fill="#111" stroke="#111" stroke-width="0.18" >Log-rank, <tspan font-style="italic">p</tspan> = 0.418</text>
</g>
<path d="M445.6,133 V136.9 H451 V141.4 H452.2 V146.6 H454.5 V151.9 H455.2 V159.4 H459.3 V162.5 H461.1 V165.2 H462.8 V168.2 H472.5 V172.8 H492.1 V180.2 H500.6 V186.3 H538.9" fill="none" stroke="#5cbf6c" stroke-width="1.0" stroke-linejoin="miter" stroke-linecap="butt"/>
<path d="M445.6,133 H451 V136.9 H451.4 V143.1 H452.2 V148.4 H453.1 V155.5 H454.5 V162.5 H458.4 V164.3 H460.5 V166.1 H461.9 V168.7 H464.6 V171.4 H467.2 V175.2 H470.4 V177.5 H473.4 V179.8 H478.2 V181.6 H482.4 V185.8 H497.1 V192.5 H501.5" fill="none" stroke="#f5547e" stroke-width="1.0" stroke-linejoin="miter" stroke-linecap="butt"/>
<text x="496.80" y="175.20" font-size="6.875" font-weight="bold" text-anchor="start" fill="#111" stroke="#111" stroke-width="0.18" textLength="43.08" lengthAdjust="spacingAndGlyphs" >c-PHF8−, n=15</text>
<text x="495.50" y="200.10" font-size="6.875" font-weight="bold" text-anchor="start" fill="#111" stroke="#111" stroke-width="0.18" textLength="43.08" lengthAdjust="spacingAndGlyphs" >c-PHF8+, n=22</text>
<text x="5.90" y="238.00" font-size="19.703" font-weight="normal" text-anchor="start" fill="#000" textLength="12.34" lengthAdjust="spacingAndGlyphs" >B</text>
<rect x="30.5" y="237" width="478" height="28" fill="none" stroke="#c6c6c6" stroke-width="1"/>
<text x="76.40" y="255.80" font-size="8.4" font-weight="bold" text-anchor="start" fill="#148a26" stroke="#148a26" stroke-width="0.3" >n-PAK4−/n-PHF8−, n = 17;</text>
<text x="180.50" y="255.80" font-size="8.4" font-weight="bold" text-anchor="start" fill="#8433c0" stroke="#8433c0" stroke-width="0.3" >n-PAK4+/n-PHF8− or n-PAK4−/n-PHF8+, n = 7;</text>
<text x="363.60" y="255.80" font-size="8.4" font-weight="bold" text-anchor="start" fill="#ff1e1e" stroke="#ff1e1e" stroke-width="0.3" >n-PAK4+/n-PHF8+, n = 13</text>
<g transform="translate(0.00,0)">
<line x1="53.5" y1="273.3" x2="215.5" y2="273.3" stroke="#dedede" stroke-width="1"/>
<line x1="215.5" y1="273.3" x2="215.5" y2="388.5" stroke="#a0a0a0" stroke-width="1"/>
<line x1="53.5" y1="273.3" x2="53.5" y2="388.5" stroke="#a0a0a0" stroke-width="1"/>
<line x1="53.5" y1="388.5" x2="215.5" y2="388.5" stroke="#a0a0a0" stroke-width="1"/>
<line x1="50.5" y1="278.40" x2="53.5" y2="278.40" stroke="#888" stroke-width="0.8"/>
<text x="49.50" y="281.30" font-size="5.8" font-weight="normal" text-anchor="end" fill="#333" >1.0</text>
<line x1="50.5" y1="299.24" x2="53.5" y2="299.24" stroke="#888" stroke-width="0.8"/>
<text x="49.50" y="302.14" font-size="5.8" font-weight="normal" text-anchor="end" fill="#333" >0.8</text>
<line x1="50.5" y1="320.08" x2="53.5" y2="320.08" stroke="#888" stroke-width="0.8"/>
<text x="49.50" y="322.98" font-size="5.8" font-weight="normal" text-anchor="end" fill="#333" >0.6</text>
<line x1="50.5" y1="340.92" x2="53.5" y2="340.92" stroke="#888" stroke-width="0.8"/>
<text x="49.50" y="343.82" font-size="5.8" font-weight="normal" text-anchor="end" fill="#333" >0.4</text>
<line x1="50.5" y1="361.76" x2="53.5" y2="361.76" stroke="#888" stroke-width="0.8"/>
<text x="49.50" y="364.66" font-size="5.8" font-weight="normal" text-anchor="end" fill="#333" >0.2</text>
<line x1="50.5" y1="382.60" x2="53.5" y2="382.60" stroke="#888" stroke-width="0.8"/>
<text x="49.50" y="385.50" font-size="5.8" font-weight="normal" text-anchor="end" fill="#333" >0.0</text>
<line x1="61.50" y1="388.5" x2="61.50" y2="391.0" stroke="#888" stroke-width="0.8"/>
<text x="61.50" y="397.80" font-size="5.9" font-weight="normal" text-anchor="middle" fill="#333" >0</text>
<line x1="80.94" y1="388.5" x2="80.94" y2="391.0" stroke="#888" stroke-width="0.8"/>
<text x="80.94" y="397.80" font-size="5.9" font-weight="normal" text-anchor="middle" fill="#333" >20</text>
<line x1="100.38" y1="388.5" x2="100.38" y2="391.0" stroke="#888" stroke-width="0.8"/>
<text x="100.38" y="397.80" font-size="5.9" font-weight="normal" text-anchor="middle" fill="#333" >40</text>
<line x1="119.82" y1="388.5" x2="119.82" y2="391.0" stroke="#888" stroke-width="0.8"/>
<text x="119.82" y="397.80" font-size="5.9" font-weight="normal" text-anchor="middle" fill="#333" >60</text>
<line x1="139.26" y1="388.5" x2="139.26" y2="391.0" stroke="#888" stroke-width="0.8"/>
<text x="139.26" y="397.80" font-size="5.9" font-weight="normal" text-anchor="middle" fill="#333" >80</text>
<line x1="158.70" y1="388.5" x2="158.70" y2="391.0" stroke="#888" stroke-width="0.8"/>
<text x="158.70" y="397.80" font-size="5.9" font-weight="normal" text-anchor="middle" fill="#333" >100</text>
<line x1="178.14" y1="388.5" x2="178.14" y2="391.0" stroke="#888" stroke-width="0.8"/>
<text x="178.14" y="397.80" font-size="5.9" font-weight="normal" text-anchor="middle" fill="#333" >120</text>
<line x1="197.58" y1="388.5" x2="197.58" y2="391.0" stroke="#888" stroke-width="0.8"/>
<text x="197.58" y="397.80" font-size="5.9" font-weight="normal" text-anchor="middle" fill="#333" >140</text>
<text transform="translate(34.1,331.3) rotate(-90)" font-size="8.95" font-weight="bold" text-anchor="middle" fill="#111" stroke="#111" stroke-width="0.3">Overall Survival</text>
<text x="134.80" y="413.30" font-size="8.9" font-weight="bold" text-anchor="middle" fill="#111" stroke="#111" stroke-width="0.3" >Duration (months)</text>
<text x="211.40" y="288.00" font-size="8.3" font-weight="bold" text-anchor="end" fill="#111" stroke="#111" stroke-width="0.3" >Log-rank, overall <tspan font-style="italic">p</tspan> &lt; 0.001</text>
</g>
<g transform="translate(263.40,0)">
<line x1="53.5" y1="273.3" x2="215.5" y2="273.3" stroke="#dedede" stroke-width="1"/>
<line x1="215.5" y1="273.3" x2="215.5" y2="388.5" stroke="#a0a0a0" stroke-width="1"/>
<line x1="53.5" y1="273.3" x2="53.5" y2="388.5" stroke="#a0a0a0" stroke-width="1"/>
<line x1="53.5" y1="388.5" x2="215.5" y2="388.5" stroke="#a0a0a0" stroke-width="1"/>
<line x1="50.5" y1="278.40" x2="53.5" y2="278.40" stroke="#888" stroke-width="0.8"/>
<text x="49.50" y="281.30" font-size="5.8" font-weight="normal" text-anchor="end" fill="#333" >1.0</text>
<line x1="50.5" y1="299.24" x2="53.5" y2="299.24" stroke="#888" stroke-width="0.8"/>
<text x="49.50" y="302.14" font-size="5.8" font-weight="normal" text-anchor="end" fill="#333" >0.8</text>
<line x1="50.5" y1="320.08" x2="53.5" y2="320.08" stroke="#888" stroke-width="0.8"/>
<text x="49.50" y="322.98" font-size="5.8" font-weight="normal" text-anchor="end" fill="#333" >0.6</text>
<line x1="50.5" y1="340.92" x2="53.5" y2="340.92" stroke="#888" stroke-width="0.8"/>
<text x="49.50" y="343.82" font-size="5.8" font-weight="normal" text-anchor="end" fill="#333" >0.4</text>
<line x1="50.5" y1="361.76" x2="53.5" y2="361.76" stroke="#888" stroke-width="0.8"/>
<text x="49.50" y="364.66" font-size="5.8" font-weight="normal" text-anchor="end" fill="#333" >0.2</text>
<line x1="50.5" y1="382.60" x2="53.5" y2="382.60" stroke="#888" stroke-width="0.8"/>
<text x="49.50" y="385.50" font-size="5.8" font-weight="normal" text-anchor="end" fill="#333" >0.0</text>
<line x1="61.50" y1="388.5" x2="61.50" y2="391.0" stroke="#888" stroke-width="0.8"/>
<text x="61.50" y="397.80" font-size="5.9" font-weight="normal" text-anchor="middle" fill="#333" >0</text>
<line x1="80.94" y1="388.5" x2="80.94" y2="391.0" stroke="#888" stroke-width="0.8"/>
<text x="80.94" y="397.80" font-size="5.9" font-weight="normal" text-anchor="middle" fill="#333" >20</text>
<line x1="100.38" y1="388.5" x2="100.38" y2="391.0" stroke="#888" stroke-width="0.8"/>
<text x="100.38" y="397.80" font-size="5.9" font-weight="normal" text-anchor="middle" fill="#333" >40</text>
<line x1="119.82" y1="388.5" x2="119.82" y2="391.0" stroke="#888" stroke-width="0.8"/>
<text x="119.82" y="397.80" font-size="5.9" font-weight="normal" text-anchor="middle" fill="#333" >60</text>
<line x1="139.26" y1="388.5" x2="139.26" y2="391.0" stroke="#888" stroke-width="0.8"/>
<text x="139.26" y="397.80" font-size="5.9" font-weight="normal" text-anchor="middle" fill="#333" >80</text>
<line x1="158.70" y1="388.5" x2="158.70" y2="391.0" stroke="#888" stroke-width="0.8"/>
<text x="158.70" y="397.80" font-size="5.9" font-weight="normal" text-anchor="middle" fill="#333" >100</text>
<line x1="178.14" y1="388.5" x2="178.14" y2="391.0" stroke="#888" stroke-width="0.8"/>
<text x="178.14" y="397.80" font-size="5.9" font-weight="normal" text-anchor="middle" fill="#333" >120</text>
<line x1="197.58" y1="388.5" x2="197.58" y2="391.0" stroke="#888" stroke-width="0.8"/>
<text x="197.58" y="397.80" font-size="5.9" font-weight="normal" text-anchor="middle" fill="#333" >140</text>
<text transform="translate(34.1,330.6) rotate(-90)" font-size="9.15" font-weight="bold" text-anchor="middle" fill="#111" stroke="#111" stroke-width="0.3">Relapse-free Survival</text>
<text x="134.80" y="413.30" font-size="8.9" font-weight="bold" text-anchor="middle" fill="#111" stroke="#111" stroke-width="0.3" >Duration (months)</text>
<text x="211.40" y="288.00" font-size="8.3" font-weight="bold" text-anchor="end" fill="#111" stroke="#111" stroke-width="0.3" >Log-rank, overall <tspan font-style="italic">p</tspan> &lt; 0.001</text>
</g>
<path d="M61.6,278.4 H75.5 V284.5 H79.1 V290.9 H80.5 V296.9 H84.5 V303.3 H110.5 V309.1 H132.7 V321.8 H205.2" fill="none" stroke="#3fae52" stroke-width="1.2" stroke-linejoin="miter" stroke-linecap="butt"/>
<path d="M117.6,307.90000000000003 V310.3" fill="none" stroke="#3fae52" stroke-width="0.7" stroke-linejoin="miter" stroke-linecap="butt"/>
<path d="M128.5,307.90000000000003 V310.3" fill="none" stroke="#3fae52" stroke-width="0.7" stroke-linejoin="miter" stroke-linecap="butt"/>
<path d="M142.4,320.6 V323.0" fill="none" stroke="#3fae52" stroke-width="0.7" stroke-linejoin="miter" stroke-linecap="butt"/>
<path d="M147.5,320.6 V323.0" fill="none" stroke="#3fae52" stroke-width="0.7" stroke-linejoin="miter" stroke-linecap="butt"/>
<path d="M163.2,320.6 V323.0" fill="none" stroke="#3fae52" stroke-width="0.7" stroke-linejoin="miter" stroke-linecap="butt"/>
<path d="M61.6,278.4 H69.2 V293.4 H75.1 V308.4 H77.3 V323.4 H96.4 V338.3 H98.2 V353.4 H117.8 V382.6" fill="none" stroke="#a35cc0" stroke-width="1.2" stroke-linejoin="miter" stroke-linecap="butt"/>
<path d="M61.6,278.4 H65.4 V286.4 H71.7 V294.4 H72.9 V302.4 H75.1 V310.4 H76.4 V318.4 H77.3 V326.9 H77.7 V334.9 H78.1 V342.4 H86.9 V350.4 H89.1 V358.4 H91.5 V366.4 H103.3 V374.4 H140.4 V382.6" fill="none" stroke="#ff2a5a" stroke-width="1.2" stroke-linejoin="miter" stroke-linecap="butt"/>
<path d="M325.2,278.4 H332.2 V284.8 H333.2 V290.6 H338 V296.6 H338.5 V302.8 H347.6 V309 H366.2 V314.9 H374.5 V321.8 H395.6 V332.4 H410.1 V344.3 H468.1" fill="none" stroke="#3fae52" stroke-width="1.2" stroke-linejoin="miter" stroke-linecap="butt"/>
<path d="M381.2,320.6 V323.0" fill="none" stroke="#3fae52" stroke-width="0.7" stroke-linejoin="miter" stroke-linecap="butt"/>
<path d="M390.0,320.6 V323.0" fill="none" stroke="#3fae52" stroke-width="0.7" stroke-linejoin="miter" stroke-linecap="butt"/>
<path d="M427.2,343.1 V345.5" fill="none" stroke="#3fae52" stroke-width="0.7" stroke-linejoin="miter" stroke-linecap="butt"/>
<path d="M325.2,278.4 H332 V293.3 H337.6 V308.4 H338.9 V323.4 H346.4 V338.3 H351.3 V353.2 H359.1 V367.6 H381.8 V382.6" fill="none" stroke="#a35cc0" stroke-width="1.2" stroke-linejoin="miter" stroke-linecap="butt"/>
<path d="M325.2,278.4 V286.4 H332 V294.4 H333 V302.4 H333.5 V310.4 H334 V318.4 H335 V326.4 H336.2 V334.4 H336.7 V342.4 H339.1 V350.4 H352.4 V358.3 H354.2 V366.4 H366.4 V374.4 H403.6 V382.6" fill="none" stroke="#ff2a5a" stroke-width="1.2" stroke-linejoin="miter" stroke-linecap="butt"/>
<path d="M227.0,322.3 H234.6 V356.1 H227.0" fill="none" stroke="#111" stroke-width="1.5" stroke-linejoin="miter" stroke-linecap="butt"/>
<path d="M227.0,361.2 H234.6 V375.2 H227.0" fill="none" stroke="#111" stroke-width="1.5" stroke-linejoin="miter" stroke-linecap="butt"/>
<text x="239.30" y="340.00" font-size="8.3" font-weight="bold" text-anchor="start" fill="#111" stroke="#111" stroke-width="0.3" ><tspan font-style="italic">p</tspan> = 0.006</text>
<text x="239.30" y="364.90" font-size="8.3" font-weight="bold" text-anchor="start" fill="#111" stroke="#111" stroke-width="0.3" ><tspan font-style="italic">p</tspan> = 0.391</text>
<path d="M486.4,344.6 H493.2 V366.5 H486.4" fill="none" stroke="#111" stroke-width="1.5" stroke-linejoin="miter" stroke-linecap="butt"/>
<path d="M486.4,370.3 H493.2 V381.7 H486.4" fill="none" stroke="#111" stroke-width="1.5" stroke-linejoin="miter" stroke-linecap="butt"/>
<text x="498.80" y="358.20" font-size="8.3" font-weight="bold" text-anchor="start" fill="#111" stroke="#111" stroke-width="0.3" ><tspan font-style="italic">p</tspan> = 0.007</text>
<text x="498.80" y="376.80" font-size="8.3" font-weight="bold" text-anchor="start" fill="#111" stroke="#111" stroke-width="0.3" ><tspan font-style="italic">p</tspan> = 0.606</text>
</g>
</svg></div>
</body></html>
